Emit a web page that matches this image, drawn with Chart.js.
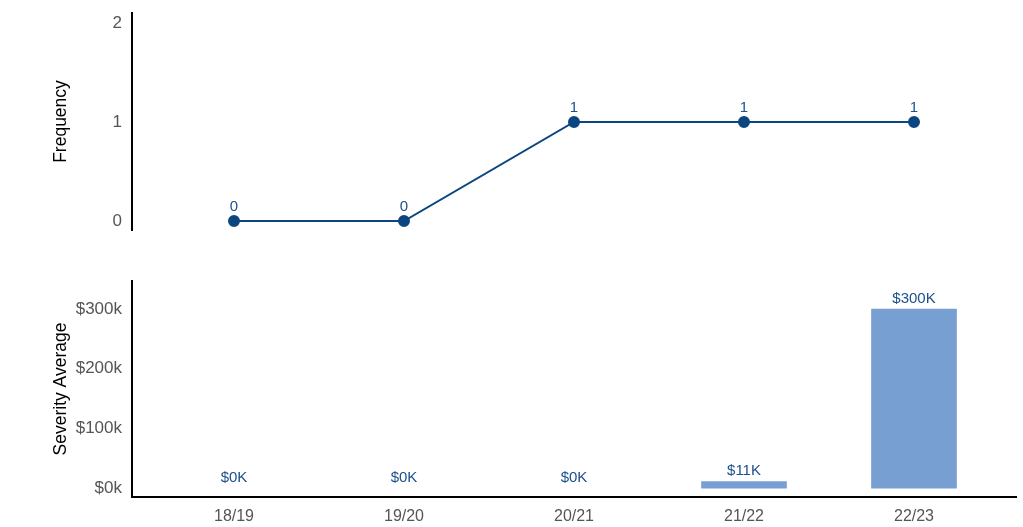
<!DOCTYPE html>
<html>
<head>
<meta charset="utf-8">
<script src="https://cdn.jsdelivr.net/npm/chart.js@4.4.0/dist/chart.umd.min.js"></script>
<style>
  body { margin: 0; background: #fff; }
  #wrap { position: relative; width: 1023px; height: 527px; }
  canvas { position: absolute; left: 0; }
  #freqChart { top: 0; }
  #sevChart { top: 255px; }
</style>
</head>
<body>
<div id="wrap">
  <canvas id="freqChart" width="1023" height="255"></canvas>
  <canvas id="sevChart" width="1023" height="272"></canvas>
</div>
<script>
// Data
const seasons = ['18/19', '19/20', '20/21', '21/22', '22/23'];
const frequency = [0, 0, 1, 1, 1];
const severity = [0, 0, 0, 11000, 300000];
const freqTicks = [0, 1, 2];
const sevTicks = [0, 100000, 200000, 300000];

const FONT = 'Liberation Sans, Arial, Helvetica, sans-serif';
const lineColor = '#0c4680';
const barColor = '#789fd2';
const labelColor = '#1c4f8e';

// draws value text above each point / bar
const valueLabels = {
    id: 'valueLabels',
    afterDatasetsDraw(chart, args, opts) {
        const ctx = chart.ctx;
        const ds = chart.data.datasets[0];
        const meta = chart.getDatasetMeta(0);
        ctx.save();
        ctx.font = '15px ' + FONT;
        ctx.fillStyle = labelColor;
        ctx.textAlign = 'center';
        ctx.textBaseline = 'bottom';
        meta.data.forEach((el, i) => {
            ctx.fillText(opts.format(ds.data[i].y), el.x, el.y - opts.gap);
        });
        ctx.restore();
    }
};

const xOpts = (show) => ({
    type: 'linear',
    offset: false,
    min: -0.6,
    max: seasons.length - 0.4,
    display: show,
    afterBuildTicks: (s) => { s.ticks = seasons.map((_, i) => ({ value: i })); },
    afterFit: (s) => { if (show) s.height = 30; },
    grid: { display: false, drawTicks: false, offset: false },
    border: { display: show, color: '#000', width: 2 },
    ticks: {
        padding: 10,
        color: '#555',
        font: { family: FONT, size: 16 },
        callback: (v) => seasons[v]
    }
});

const yOpts = (title, min, max, tickVals, fmt) => ({
    min: min,
    max: max,
    afterBuildTicks: (s) => { s.ticks = tickVals.map(v => ({ value: v })); },
    afterFit: (s) => { s.width = 132; s.paddingTop = 0; s.paddingBottom = 0; },
    grid: { display: false, drawTicks: false },
    border: { display: true, color: '#000', width: 2 },
    ticks: {
        padding: 10,
        color: '#555',
        font: { family: FONT, size: 17 },
        callback: fmt
    },
    title: {
        display: true,
        text: title,
        color: '#000',
        padding: { top: 51 },
        font: { family: FONT, size: 17.5 }
    }
});

// Frequency line chart
new Chart(document.getElementById('freqChart').getContext('2d'), {
    type: 'line',
    data: {
        datasets: [{
            data: frequency.map((v, i) => ({ x: i, y: v })),
            borderColor: lineColor,
            backgroundColor: lineColor,
            borderWidth: 2,
            pointRadius: 5,
            pointHoverRadius: 5,
            tension: 0
        }]
    },
    options: {
        responsive: false,
        animation: false,
        layout: { padding: { top: 13, bottom: 25, right: 7, left: 0 } },
        plugins: {
            legend: { display: false },
            tooltip: { enabled: false },
            valueLabels: { gap: 7, format: (v) => String(v) }
        },
        scales: {
            x: xOpts(false),
            y: yOpts('Frequency', -0.09, 2.1, freqTicks, (v) => String(v))
        }
    },
    plugins: [valueLabels]
});

// Severity bar chart
new Chart(document.getElementById('sevChart').getContext('2d'), {
    type: 'bar',
    data: {
        datasets: [{
            data: severity.map((v, i) => ({ x: i, y: v })),
            backgroundColor: severity.map(v => v === 0 ? 'rgba(0,0,0,0)' : barColor),
            barThickness: 85
        }]
    },
    options: {
        responsive: false,
        animation: false,
        layout: { padding: { top: 26, bottom: 0, right: 7, left: 0 } },
        plugins: {
            legend: { display: false },
            tooltip: { enabled: false },
            valueLabels: { gap: 3, format: (v) => '$' + Math.round(v / 1000) + 'K' }
        },
        scales: {
            x: xOpts(true),
            y: yOpts('Severity Average', -15000, 347000, sevTicks, (v) => '$' + (v / 1000) + 'k')
        }
    },
    plugins: [valueLabels]
});
</script>
</body>
</html>
